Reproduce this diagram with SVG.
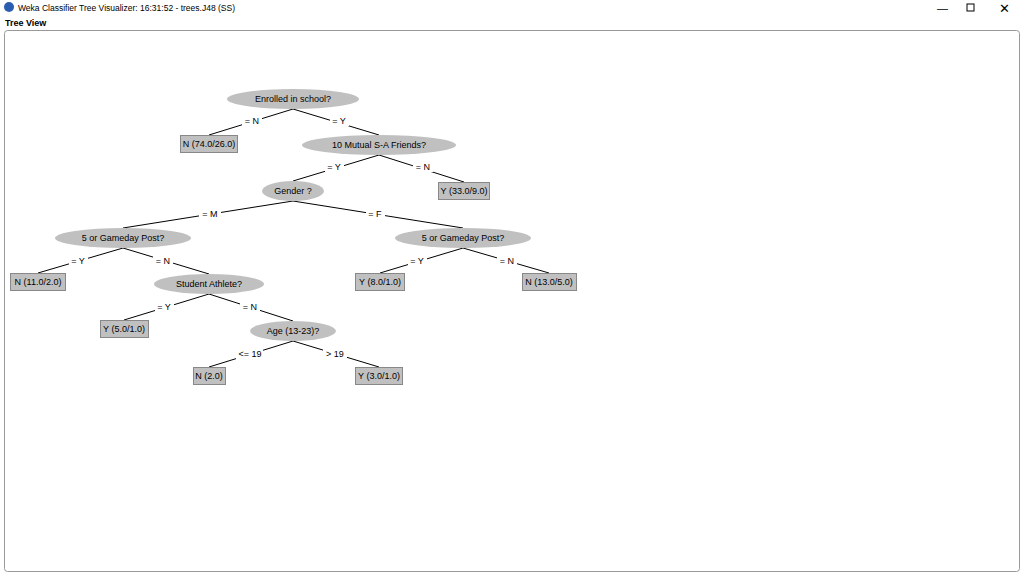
<svg xmlns="http://www.w3.org/2000/svg" width="1024" height="576" viewBox="0 0 1024 576">
<style>
text{font-family:"Liberation Sans",Arial,sans-serif;font-size:9px;fill:#000}
.n{fill:#c0c0c0}
.b{fill:#c0c0c0;stroke:#888;stroke-width:1}
.e line{stroke:#000;stroke-width:1}
.lb{fill:#fff}
.c{text-anchor:middle}
</style>
<rect width="1024" height="576" fill="#fff"/>
<circle cx="9" cy="7" r="5" fill="#2a5db0"/>
<text x="18" y="11" style="font-size:8.5px">Weka Classifier Tree Visualizer: 16:31:52 - trees.J48 (SS)</text>
<text x="5" y="26" style="font-size:9px;font-weight:bold">Tree View</text>
<text x="937" y="12" style="font-size:11px">—</text>
<rect x="967" y="4" width="7" height="7" fill="none" stroke="#000"/>
<text x="999" y="13" style="font-size:13px">✕</text>
<rect x="4.5" y="30.5" width="1015" height="541" rx="3" fill="#fff" stroke="#999"/>
<g class="e" id="connectors">
<line x1="293" y1="109" x2="209" y2="135"/>
<line x1="293" y1="109" x2="379" y2="135"/>
<line x1="379" y1="155" x2="293" y2="181"/>
<line x1="379" y1="155" x2="464" y2="182"/>
<line x1="293" y1="201" x2="123" y2="228"/>
<line x1="293" y1="201" x2="463" y2="228"/>
<line x1="123" y1="248" x2="38" y2="273"/>
<line x1="123" y1="248" x2="209" y2="274"/>
<line x1="463" y1="248" x2="380" y2="273"/>
<line x1="463" y1="248" x2="549" y2="273"/>
<line x1="209" y1="294" x2="124" y2="320"/>
<line x1="209" y1="294" x2="293" y2="321"/>
<line x1="293" y1="341" x2="209" y2="367"/>
<line x1="293" y1="341" x2="379" y2="367"/>
<rect class="lb" x="242" y="116" width="20" height="10"/><text x="252" y="124" class="c">= N</text>
<rect class="lb" x="330" y="116" width="19" height="10"/><text x="339" y="124" class="c">= Y</text>
<rect class="lb" x="325" y="162" width="19" height="10"/><text x="334" y="170" class="c">= Y</text>
<rect class="lb" x="413" y="162" width="20" height="10"/><text x="423" y="170" class="c">= N</text>
<rect class="lb" x="199" y="209" width="22" height="10"/><text x="210" y="217" class="c">= M</text>
<rect class="lb" x="366" y="209" width="19" height="10"/><text x="375" y="217" class="c">= F</text>
<rect class="lb" x="69" y="256" width="19" height="10"/><text x="78" y="264" class="c">= Y</text>
<rect class="lb" x="153" y="256" width="20" height="10"/><text x="163" y="264" class="c">= N</text>
<rect class="lb" x="408" y="256" width="19" height="10"/><text x="417" y="264" class="c">= Y</text>
<rect class="lb" x="497" y="256" width="20" height="10"/><text x="507" y="264" class="c">= N</text>
<rect class="lb" x="155" y="302" width="19" height="10"/><text x="164" y="310" class="c">= Y</text>
<rect class="lb" x="240" y="302" width="20" height="10"/><text x="250" y="310" class="c">= N</text>
<rect class="lb" x="236" y="349" width="27" height="10"/><text x="250" y="357" class="c">&lt;= 19</text>
<rect class="lb" x="323" y="349" width="24" height="10"/><text x="335" y="357" class="c">&gt; 19</text>
</g>
<g id="n1"><ellipse class="n" cx="293" cy="99" rx="66" ry="10"/><text x="293" y="102" class="c">Enrolled in school?</text></g>
<g id="n2"><rect class="b" x="180.5" y="135.5" width="57" height="17"/><text x="209" y="147" class="c">N (74.0/26.0)</text></g>
<g id="n3"><ellipse class="n" cx="379" cy="145" rx="77" ry="10"/><text x="379" y="148" class="c">10 Mutual S-A Friends?</text></g>
<g id="n4"><rect class="b" x="438.5" y="182.5" width="51" height="17"/><text x="464" y="194" class="c">Y (33.0/9.0)</text></g>
<g id="n5"><ellipse class="n" cx="293" cy="191" rx="31" ry="10"/><text x="293" y="194" class="c">Gender ?</text></g>
<g id="n6"><ellipse class="n" cx="123" cy="238" rx="68" ry="10"/><text x="123" y="241" class="c">5 or Gameday Post?</text></g>
<g id="n7"><ellipse class="n" cx="463" cy="238" rx="68" ry="10"/><text x="463" y="241" class="c">5 or Gameday Post?</text></g>
<g id="n8"><rect class="b" x="10.5" y="273.5" width="55" height="17"/><text x="38" y="285" class="c">N (11.0/2.0)</text></g>
<g id="n9"><ellipse class="n" cx="209" cy="284" rx="55" ry="10"/><text x="209" y="287" class="c">Student Athlete?</text></g>
<g id="n10"><rect class="b" x="355.5" y="273.5" width="49" height="17"/><text x="380" y="285" class="c">Y (8.0/1.0)</text></g>
<g id="n11"><rect class="b" x="522.5" y="273.5" width="54" height="17"/><text x="549" y="285" class="c">N (13.0/5.0)</text></g>
<g id="n12"><rect class="b" x="100.5" y="320.5" width="48" height="17"/><text x="124" y="332" class="c">Y (5.0/1.0)</text></g>
<g id="n13"><ellipse class="n" cx="293" cy="331" rx="43" ry="10"/><text x="293" y="334" class="c">Age (13-23)?</text></g>
<g id="n14"><rect class="b" x="193.5" y="367.5" width="32" height="17"/><text x="209" y="379" class="c">N (2.0)</text></g>
<g id="n15"><rect class="b" x="355.5" y="367.5" width="47" height="17"/><text x="379" y="379" class="c">Y (3.0/1.0)</text></g>
</svg>
